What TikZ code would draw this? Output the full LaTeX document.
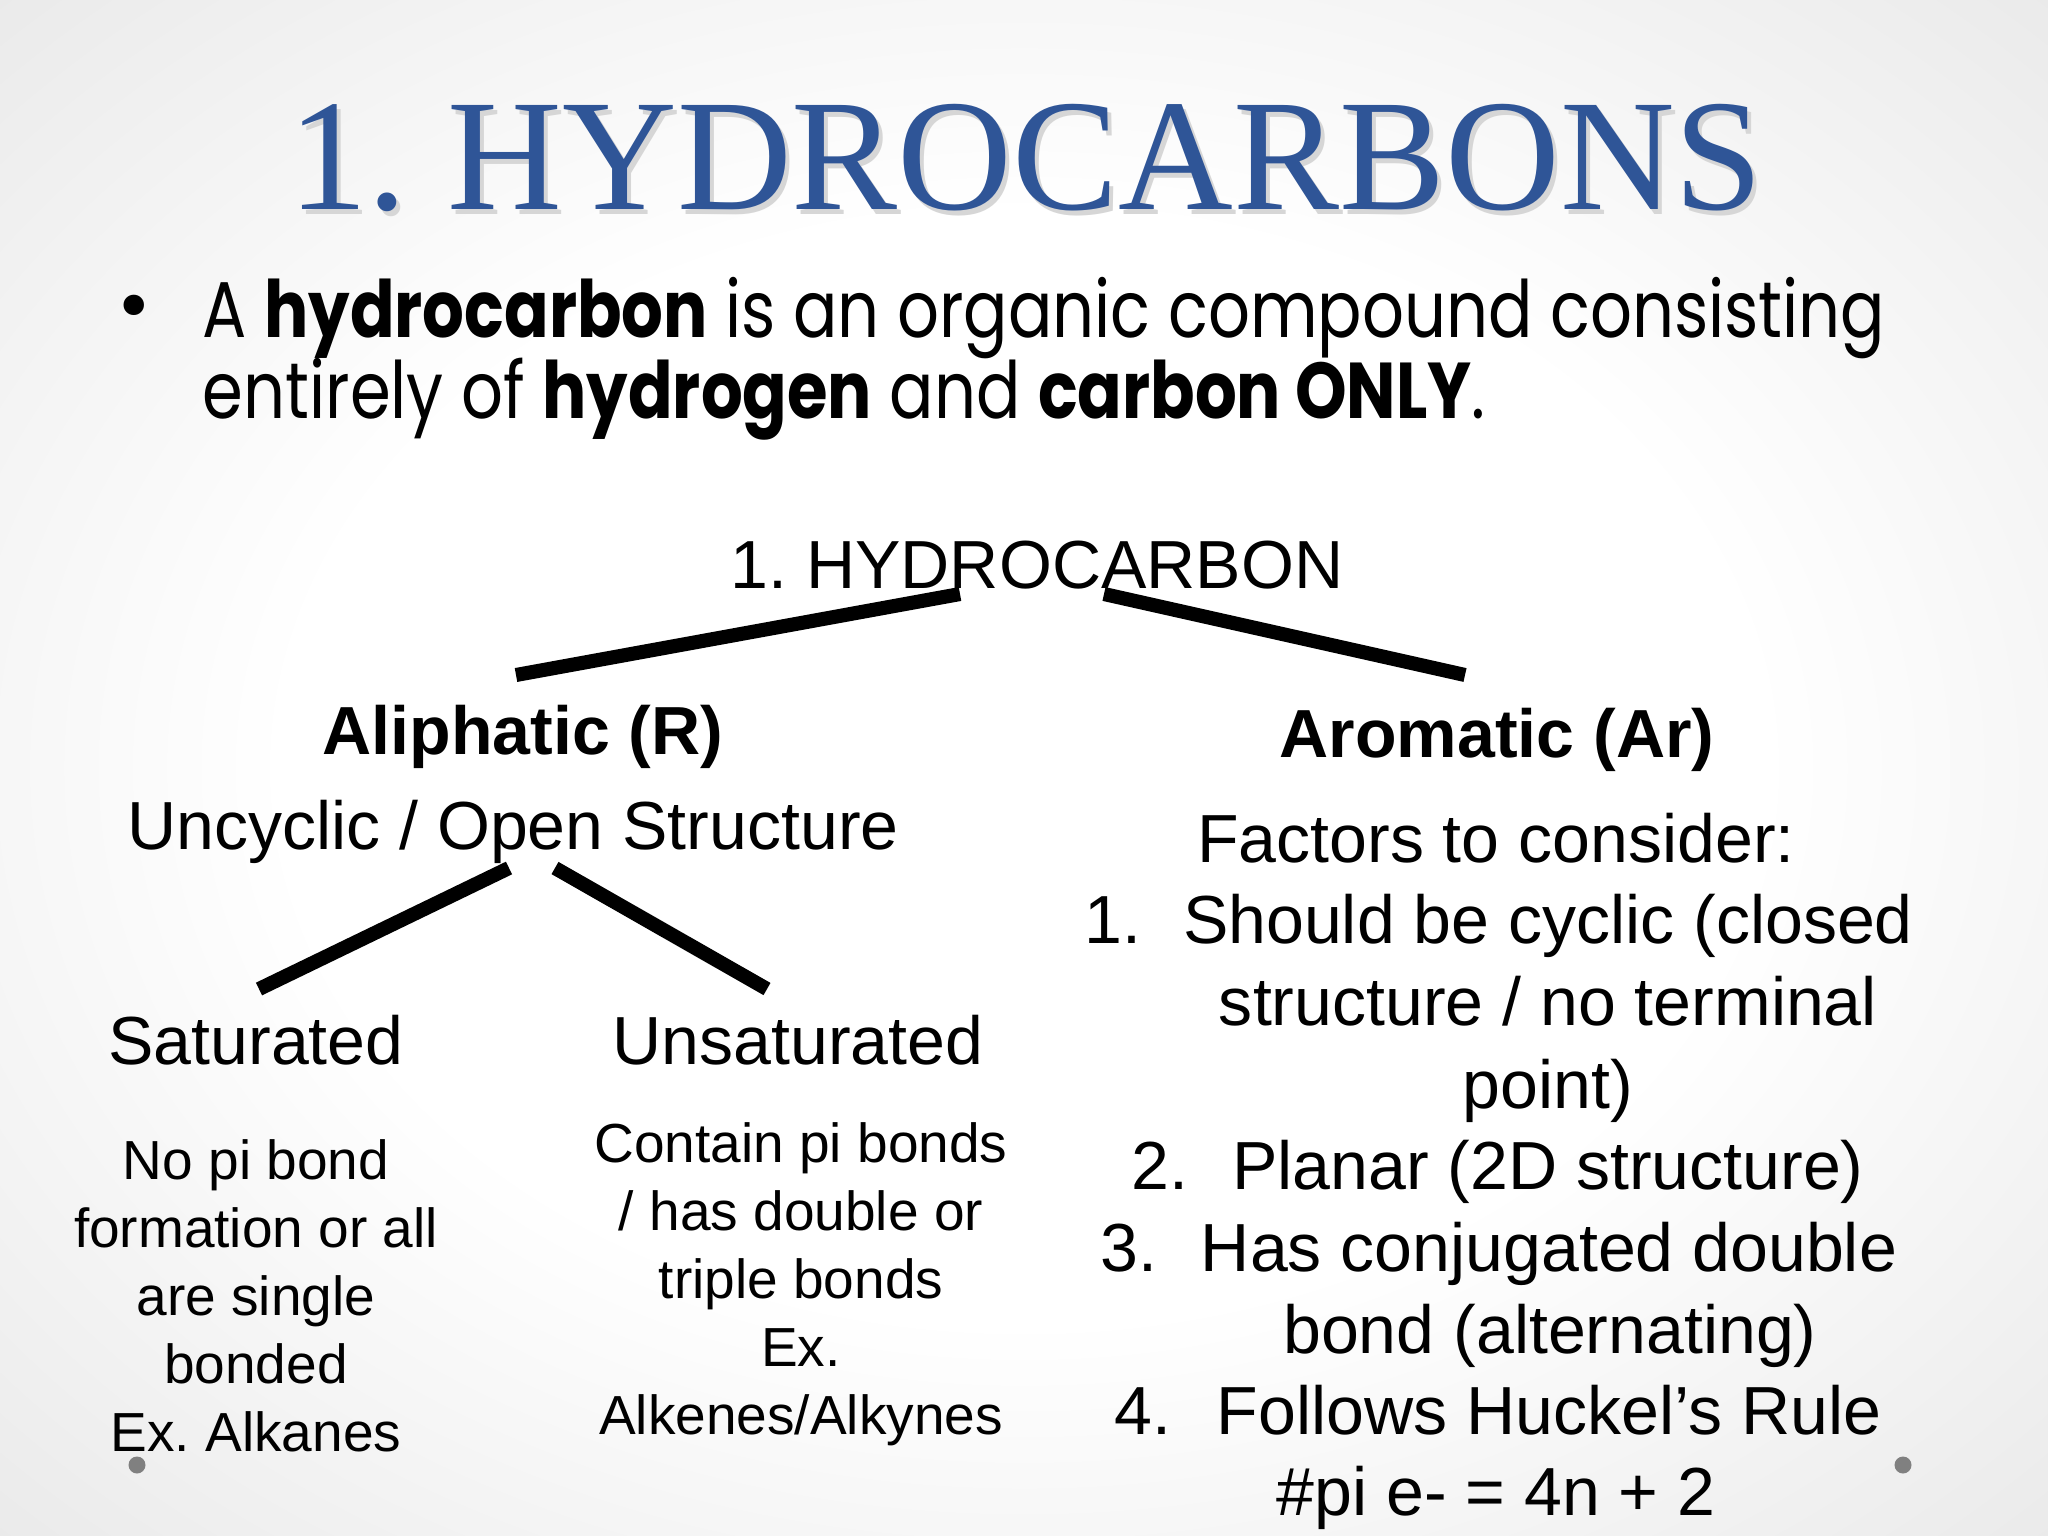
\documentclass[tikz,border=0pt]{standalone}
\usepackage{fontspec}
\setmainfont{Liberation Sans}
\newfontfamily\titlefont{Liberation Serif}
\newfontfamily\bodyfont[FakeStretch=0.83]{Poppins}
\newfontfamily\symfont{DejaVu Sans}
\usepackage{xcolor}
\usetikzlibrary{positioning}
\definecolor{titleblue}{RGB}{47,85,151}
\definecolor{dotgray}{RGB}{128,128,128}
\pgfdeclareradialshading{slidebg}{\pgfpoint{0bp}{0bp}}{color(0bp)=(white); color(18bp)=(white); color(50bp)=(black!15)}
\tikzset{
    headline/.style={inner sep=0pt, anchor=base, font=\titlefont\fontsize{45.2}{50}\selectfont},
    bodyline/.style={inner sep=0pt, anchor=base west, font=\bodyfont\fontsize{22.5}{26}\selectfont},
    branch/.style={inner sep=0pt, anchor=base, font=\fontsize{19.35}{23}\selectfont},
    kind/.style={branch, font=\bfseries\fontsize{19.35}{23}\selectfont},
    note/.style={inner sep=0pt, anchor=base, font=\fontsize{15.65}{19}\selectfont},
    itemno/.style={branch, anchor=base west},
    link/.style={line width=4, line cap=butt}
}
\frenchspacing

\begin{document}
\begin{tikzpicture}[x=0.01cm, y=-0.01cm]
    \useasboundingbox (0,0) rectangle (2048,1536);
    \shade[shading=slidebg] (0,0) rectangle (2048,1536);

    % Slide title
    \node[headline, text=black!16] (titleshadow) at (1030,214) {1. HYDROCARBONS};
    \node[headline, text=titleblue] (title) at (1026,209) {1. HYDROCARBONS};

    \node[inner sep=0pt, font=\symfont\fontsize{20}{24}\selectfont] (bullet) at (134,313) {•};
    \node[bodyline] (def1) at (202,337) {A \textbf{hydrocarbon} is an organic compound consisting};
    \node[bodyline] (def2) at (202,418) {entirely of \textbf{hydrogen} and \textbf{carbon ONLY}.};

    % Tree
    \node[branch] (root) at (1037,588) {1. HYDROCARBON};
    \node[kind] (aliph) at (523,754) {Aliphatic (R)};
    \node[kind] (arom) at (1497,757) {Aromatic (Ar)};
    \node[branch] (open) at (513,849) {Uncyclic / Open Structure};
    \node[branch] (sat) at (256,1064) {Saturated};
    \node[branch] (unsat) at (798,1064) {Unsaturated};

    \coordinate (rootL) at (960,594);
    \coordinate (rootR) at (1104,594);
    \coordinate (aliphTop) at (516,675);
    \coordinate (aromTop) at (1465,675);
    \coordinate (openL) at (509,868);
    \coordinate (openR) at (555,868);
    \coordinate (satTop) at (259,989);
    \coordinate (unsatTop) at (767,989);
    \draw[link] (rootL) -- (aliphTop);
    \draw[link] (rootR) -- (aromTop);
    \draw[link] (openL) -- (satTop);
    \draw[link] (openR) -- (unsatTop);

    % Saturated notes
    \node[note] (sat1) at (256,1179) {No pi bond};
    \node[note] (sat2) at (256,1247) {formation or all};
    \node[note] (sat3) at (256,1315) {are single};
    \node[note] (sat4) at (256,1383) {bonded};
    \node[note] (sat5) at (256,1451) {Ex. Alkanes};

    % Unsaturated notes
    \node[note] (uns1) at (801,1162) {Contain pi bonds};
    \node[note] (uns2) at (801,1230) {/ has double or};
    \node[note] (uns3) at (801,1298) {triple bonds};
    \node[note] (uns4) at (801,1366) {Ex.};
    \node[note] (uns5) at (801,1434) {Alkenes/Alkynes};

    % Aromatic factors
    \node[branch] (factors) at (1496,862) {Factors to consider:};
    \node[branch] (f1a) at (1548,943) {Should be cyclic (closed};
    \node[branch] (f1b) at (1548,1025) {structure / no terminal};
    \node[branch] (f1c) at (1548,1108) {point)};
    \node[branch] (f2) at (1548,1189) {Planar (2D structure)};
    \node[branch] (f3a) at (1549,1271) {Has conjugated double};
    \node[branch] (f3b) at (1550,1353) {bond (alternating)};
    \node[branch] (f4a) at (1549,1434) {Follows Huckel’s Rule};
    \node[branch] (f4b) at (1496,1515) {\#pi e- = 4n + 2};
    \node[itemno] (n1) at (1084,943) {1.};
    \node[itemno] (n2) at (1131,1189) {2.};
    \node[itemno] (n3) at (1100,1271) {3.};
    \node[itemno] (n4) at (1114,1434) {4.};

    \fill[dotgray] (137,1465) circle (8.5);
    \fill[dotgray] (1903,1465) circle (8.5);
\end{tikzpicture}
\end{document}
